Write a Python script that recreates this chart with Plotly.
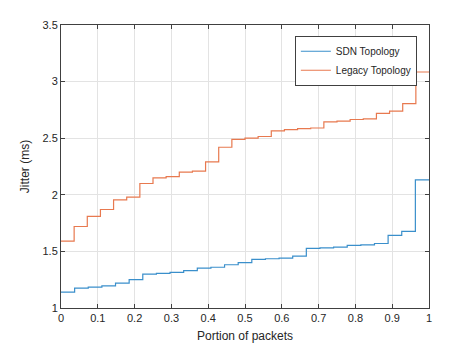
import plotly.graph_objects as go

# Sorted jitter values (ms) per equal portion of packets
sdn_jitter = [1.14, 1.175, 1.185, 1.195, 1.22, 1.25, 1.30, 1.305, 1.315, 1.33,
              1.352, 1.36, 1.382, 1.40, 1.43, 1.435, 1.44, 1.458, 1.527, 1.532,
              1.537, 1.553, 1.558, 1.57, 1.642, 1.677, 2.131]
legacy_jitter = [1.59, 1.72, 1.81, 1.87, 1.955, 1.98, 2.10, 2.15, 2.16, 2.20,
                 2.21, 2.29, 2.42, 2.49, 2.50, 2.515, 2.565, 2.575, 2.585, 2.59,
                 2.645, 2.65, 2.665, 2.67, 2.72, 2.74, 2.805, 3.085]
x_ticks = [0, 0.1, 0.2, 0.3, 0.4, 0.5, 0.6, 0.7, 0.8, 0.9, 1]
x_tick_labels = ["0", "0.1", "0.2", "0.3", "0.4", "0.5", "0.6", "0.7", "0.8", "0.9", "1"]
y_ticks = [1, 1.5, 2, 2.5, 3, 3.5]
y_tick_labels = ["1", "1.5", "2", "2.5", "3", "3.5"]


def stairs(vals):
    n = len(vals)
    xs = [i / n for i in range(n + 1)]
    ys = list(vals) + [vals[-1]]
    return xs, ys


fig = go.Figure()
xs, ys = stairs(sdn_jitter)
fig.add_trace(go.Scatter(x=xs, y=ys, mode="lines", line_shape="hv",
                         line=dict(color="#3a8fcb", width=1.2), name="SDN Topology"))
xs, ys = stairs(legacy_jitter)
fig.add_trace(go.Scatter(x=xs, y=ys, mode="lines", line_shape="hv",
                         line=dict(color="#e8794f", width=1.2), name="Legacy Topology"))

axis_common = dict(showline=True, mirror="ticks", linecolor="#404040", linewidth=1,
                   ticks="inside", ticklen=4, tickcolor="#404040",
                   showgrid=True, gridcolor="#e3e3e3", gridwidth=1, zeroline=False,
                   tickfont=dict(size=11, color="#262626"))

fig.update_layout(
    width=474, height=353,
    margin=dict(l=61, r=45, t=25, b=40),
    paper_bgcolor="white", plot_bgcolor="white",
    font=dict(family="Liberation Sans, Arial, sans-serif", size=11, color="#262626"),
    xaxis=dict(range=[0, 1], tickvals=x_ticks, ticktext=x_tick_labels,
               title=dict(text="Portion of packets", font=dict(size=12), standoff=8),
               **axis_common),
    yaxis=dict(range=[1, 3.5], tickvals=y_ticks, ticktext=y_tick_labels,
               title=dict(text="Jitter (ms)", font=dict(size=12), standoff=10),
               **axis_common),
    legend=dict(x=0.967, y=0.962, xanchor="right", yanchor="top",
                bgcolor="white", bordercolor="#404040", borderwidth=1,
                font=dict(size=10, color="#262626"), itemwidth=30,
                tracegroupgap=0),
    showlegend=True,
)

fig.write_html("out.html")
